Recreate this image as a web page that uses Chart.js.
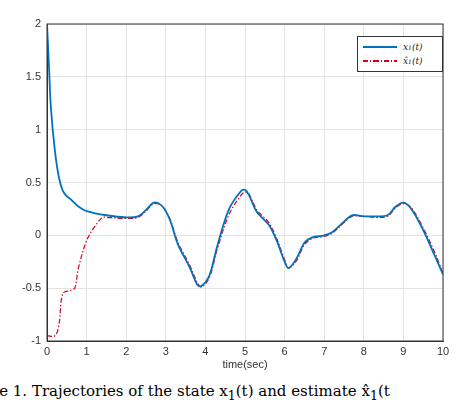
<!DOCTYPE html>
<html><head><meta charset="utf-8">
<script src="https://cdn.jsdelivr.net/npm/chart.js@4/dist/chart.umd.min.js"></script>
<style>
body{margin:0;background:#fff;width:474px;height:400px;overflow:hidden;position:relative;font-family:"Liberation Sans",Arial,sans-serif}
#wrap{position:absolute;left:0;top:0;width:474px;height:372px}
#leg{position:absolute;left:357px;top:36px;width:84px;height:34px;border:1px solid #333;background:#fff;font-family:"DejaVu Serif",serif;font-style:italic;font-size:9px;color:#222}
.row{position:absolute;left:5px;height:12px;display:flex;align-items:center}
.ln{width:34px;height:1.5px;margin-right:6px}
#cap{position:absolute;left:-8px;top:382px;white-space:nowrap;font-family:"DejaVu Serif",serif;font-size:15px;color:#000}
</style></head><body>
<div id="wrap"><canvas id="c"></canvas></div>
<div id="leg">
<div class="row" style="top:4px"><div class="ln" style="background:#0072BD"></div>x<sub style="font-size:6px">1</sub>(t)</div>
<div class="row" style="top:18px"><div class="ln" style="background:repeating-linear-gradient(90deg,#D6001C 0 5px,transparent 5px 7px,#D6001C 7px 8.5px,transparent 8.5px 10.5px)"></div>x̂<sub style="font-size:6px">1</sub>(t)</div>
</div>
<div id="cap">re 1. Trajectories of the state x<sub>1</sub>(t) and estimate x̂<sub>1</sub>(t</div>
<script>
const tState=[0,0.05,0.1,0.2,0.3,0.4,0.5,0.6,0.8,1.0,1.5,2.0,2.3,2.5,2.7,2.9,3.1,3.3,3.6,3.8,3.9,4.1,4.3,4.6,4.9,5.0,5.1,5.3,5.6,5.8,6.0,6.1,6.3,6.5,6.7,7.0,7.2,7.5,7.7,8.0,8.3,8.6,8.8,9.0,9.2,9.5,9.8,10];
const xState=[2.0,1.6,1.2,0.8,0.55,0.42,0.37,0.34,0.27,0.23,0.19,0.17,0.18,0.24,0.31,0.28,0.15,-0.08,-0.3,-0.47,-0.48,-0.38,-0.1,0.25,0.42,0.43,0.38,0.22,0.1,-0.05,-0.25,-0.31,-0.22,-0.07,-0.02,0.0,0.03,0.13,0.19,0.18,0.18,0.19,0.27,0.31,0.25,0.05,-0.2,-0.37];
const tEst=[0,0.2,0.3,0.4,0.6,0.7,0.8,1.0,1.2,1.4,1.5,2.0,2.3,2.5,2.7,2.9,3.1,3.3,3.6,3.8,3.9,4.1,4.3,4.6,4.9,5.0,5.1,5.3,5.6,5.8,6.0,6.1,6.3,6.5,6.7,7.0,7.2,7.5,7.7,8.0,8.3,8.6,8.8,9.0,9.2,9.5,9.8,10];
const xEst=[-0.95,-0.95,-0.85,-0.55,-0.52,-0.5,-0.3,-0.05,0.08,0.17,0.17,0.16,0.17,0.23,0.3,0.28,0.16,-0.06,-0.28,-0.45,-0.49,-0.4,-0.13,0.2,0.38,0.41,0.39,0.24,0.12,-0.03,-0.23,-0.31,-0.24,-0.09,-0.03,-0.01,0.02,0.12,0.18,0.18,0.17,0.18,0.26,0.3,0.26,0.07,-0.17,-0.36];
const xTicks=[0,1,2,3,4,5,6,7,8,9,10];
const yTicks=[-1,-0.5,0,0.5,1,1.5,2];
const pts=(t,v)=>t.map((x,i)=>({x,y:v[i]}));
const tickFont={family:"Liberation Sans",size:11};
new Chart(document.getElementById('c'),{
type:'line',
data:{datasets:[
{data:pts(tState,xState),borderColor:'#0072BD',borderWidth:1.8,pointRadius:0,tension:0.35},
{data:pts(tEst,xEst),borderColor:'#D6001C',borderWidth:1.2,borderDash:[5,2,1.5,2],pointRadius:0,tension:0.35}
]},
options:{responsive:true,maintainAspectRatio:false,animation:false,
layout:{padding:{top:24,right:31,left:0,bottom:0}},
plugins:{legend:{display:false},tooltip:{enabled:false}},
scales:{
x:{type:'linear',min:0,max:10,afterBuildTicks:a=>{a.ticks=xTicks.map(v=>({value:v}))},
 grid:{color:'#e3e3e3',drawTicks:false},border:{color:'#333'},
 ticks:{font:tickFont,color:'#333',padding:4,callback:v=>String(v)},
 title:{display:true,text:'time(sec)',font:{family:"Liberation Sans",size:11},color:'#333',padding:0},
 afterFit:a=>{a.height=31}},
y:{min:-1,max:2,afterBuildTicks:a=>{a.ticks=yTicks.map(v=>({value:v}))},
 grid:{color:'#e3e3e3',drawTicks:false},border:{color:'#333'},
 ticks:{font:tickFont,color:'#333',padding:6,callback:v=>String(v)},
 afterFit:a=>{a.width=47}}
}},
plugins:[{id:'box',afterDraw(ch){const a=ch.chartArea,c=ch.ctx;c.save();c.strokeStyle='#333';c.lineWidth=1;c.strokeRect(a.left,a.top,a.right-a.left,a.bottom-a.top);c.restore();}}]
});
</script></body></html>
